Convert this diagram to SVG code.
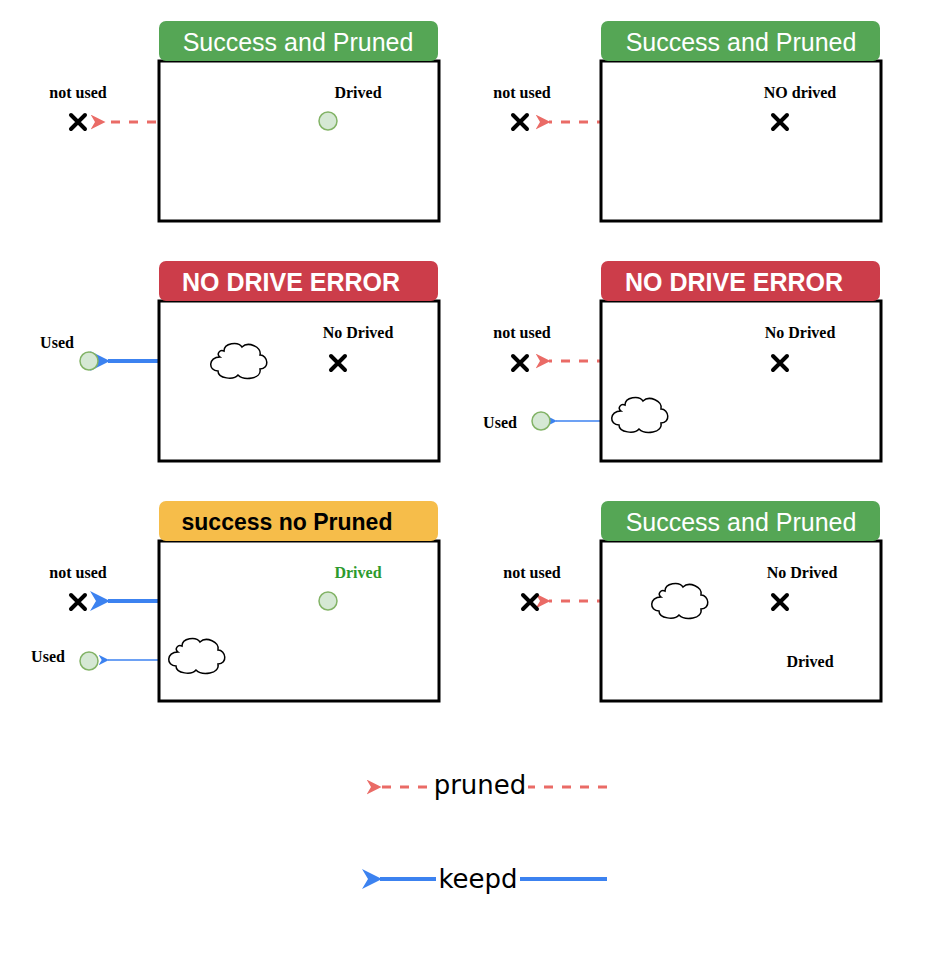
<svg xmlns="http://www.w3.org/2000/svg" width="946" height="956" viewBox="0 0 946 956">
<style>
.box{fill:#fff;stroke:#000;stroke-width:3}
.tg{fill:#55a655}.tr{fill:#cc3d4a}.to{fill:#f6bd4a}
.tt{font-family:"Liberation Sans",Arial,sans-serif;font-size:25px;fill:#fff;text-anchor:middle}
.lb{font-family:"Liberation Serif","Times New Roman",serif;font-weight:bold;font-size:16px;text-anchor:middle;fill:#000}
.x{stroke:#000;stroke-width:4;stroke-linecap:round}
.dot{fill:#d5e8d4;stroke:#82b366;stroke-width:1.5}
.pr{stroke:#ea6b66;stroke-width:3;stroke-dasharray:9 9;fill:none}
.kp{stroke:#3c82f0;stroke-width:4;fill:none}
.th{stroke:#3c82f0;stroke-width:1.5;fill:none}
.cl{fill:#fff;stroke:#000;stroke-width:1.5}
.lg{font-family:"Comic Sans MS","DejaVu Sans",sans-serif;font-size:26px;text-anchor:middle}
</style>
<defs>
<marker id="ar" viewBox="0 0 10 10" refX="1" refY="5" markerWidth="5" markerHeight="5" orient="auto-start-reverse"><path d="M0,5 L10,0 L7,5 L10,10 Z" fill="#ea6b66"/></marker>
<marker id="ab" viewBox="0 0 10 10" refX="1" refY="5" markerWidth="5" markerHeight="5" orient="auto-start-reverse"><path d="M0,5 L10,0 L7,5 L10,10 Z" fill="#3c82f0"/></marker>
<marker id="abs" viewBox="0 0 10 10" refX="1" refY="5" markerWidth="7" markerHeight="7" orient="auto-start-reverse"><path d="M0,5 L10,0 L7,5 L10,10 Z" fill="#3c82f0"/></marker>
<path id="cloud" class="cl" d="M-18,-4 C-30,-4 -30,10 -20,10 C-20,18 -4,19 0,14 C6,20 24,18 22,8 C32,8 30,-6 22,-6 C24,-14 10,-20 4,-14 C0,-20 -14,-18 -14,-10 C-18,-12 -22,-7 -18,-4 Z"/>
</defs>
<g id="connectors">
<path class="pr" d="M318,122 H104" marker-end="url(#ar)"/>
<path class="pr" d="M768,122 H549" marker-end="url(#ar)"/>
<path class="kp" d="M320,361 H108" marker-end="url(#ab)"/>
<path class="th" d="M340,420 H292 C275,420 268,400 257,373" marker-end="url(#abs)"/>
<path class="pr" d="M768,361 H549" marker-end="url(#ar)"/>
<path class="th" d="M768,361 H700 C680,361 675,385 658,403"/>
<path class="th" d="M612,421 H556" marker-end="url(#abs)"/>
<path class="kp" d="M320,601 H108" marker-end="url(#ab)"/>
<path class="th" d="M262,601 C240,601 235,625 215,641"/>
<path class="th" d="M170,660 H108" marker-end="url(#abs)"/>
<path class="pr" d="M768,601 H549" marker-end="url(#ar)"/>
<path class="th" d="M778,660 H725 C705,660 700,635 694,614" marker-end="url(#abs)"/>
</g>
<g id="n1"><rect class="box" x="159" y="61" width="280" height="160"/><rect class="tg" x="159" y="21" width="279" height="40" rx="7"/><text class="tt" x="298" y="51">Success and Pruned</text>
<text class="lb" x="78" y="98">not used</text><path class="x" d="M71,115 l14,14 M85,115 l-14,14"/><circle class="dot" cx="328" cy="121" r="9"/><text class="lb" x="358" y="98">Drived</text></g>
<g id="n2"><rect class="box" x="601" y="61" width="280" height="160"/><rect class="tg" x="601" y="21" width="279" height="40" rx="7"/><text class="tt" x="741" y="51">Success and Pruned</text>
<text class="lb" x="522" y="98">not used</text><path class="x" d="M513,115 l14,14 M527,115 l-14,14"/><path class="x" d="M773,115 l14,14 M787,115 l-14,14"/><text class="lb" x="800" y="98">NO drived</text></g>
<g id="n3"><rect class="box" x="159" y="301" width="280" height="160"/><rect class="tr" x="159" y="261" width="279" height="40" rx="7"/><text class="tt" x="291" y="291" font-weight="bold">NO DRIVE ERROR</text>
<text class="lb" x="57" y="348">Used</text><circle class="dot" cx="89" cy="361" r="9"/><use href="#cloud" x="238" y="361"/><path class="x" d="M331,356 l14,14 M345,356 l-14,14"/><text class="lb" x="358" y="338">No Drived</text></g>
<g id="n4"><rect class="box" x="601" y="301" width="280" height="160"/><rect class="tr" x="601" y="261" width="279" height="40" rx="7"/><text class="tt" x="734" y="291" font-weight="bold">NO DRIVE ERROR</text>
<text class="lb" x="522" y="338">not used</text><path class="x" d="M513,356 l14,14 M527,356 l-14,14"/><path class="x" d="M773,356 l14,14 M787,356 l-14,14"/><text class="lb" x="800" y="338">No Drived</text><use href="#cloud" x="639" y="415"/><text class="lb" x="500" y="428">Used</text><circle class="dot" cx="541" cy="421" r="9"/></g>
<g id="n5"><rect class="box" x="159" y="541" width="280" height="160"/><rect class="to" x="159" y="501" width="279" height="40" rx="7"/><text class="tt" x="287" y="530" font-weight="bold" fill="#000" style="fill:#000;font-size:23px">success no Pruned</text>
<text class="lb" x="78" y="578">not used</text><path class="x" d="M71,595 l14,14 M85,595 l-14,14"/><circle class="dot" cx="328" cy="601" r="9"/><text class="lb" x="358" y="578" style="fill:#2d9a2d">Drived</text><use href="#cloud" x="196" y="656"/><text class="lb" x="48" y="662">Used</text><circle class="dot" cx="89" cy="661" r="9"/></g>
<g id="n6"><rect class="box" x="601" y="541" width="280" height="160"/><rect class="tg" x="601" y="501" width="279" height="40" rx="7"/><text class="tt" x="741" y="531">Success and Pruned</text>
<text class="lb" x="532" y="578">not used</text><path class="x" d="M523,595 l14,14 M537,595 l-14,14"/><use href="#cloud" x="679" y="601"/><path class="x" d="M773,595 l14,14 M787,595 l-14,14"/><text class="lb" x="802" y="578">No Drived</text><text class="lb" x="810" y="667">Drived</text></g>
<g id="legend">
<path class="pr" d="M607,787 H380" marker-end="url(#ar)"/>
<rect x="432" y="768" width="96" height="34" fill="#fff"/><text class="lg" x="480" y="794">pruned</text>
<path class="kp" d="M607,879 H380" marker-end="url(#ab)"/>
<rect x="436" y="862" width="84" height="34" fill="#fff"/><text class="lg" x="478" y="888">keepd</text>
</g>
</svg>
